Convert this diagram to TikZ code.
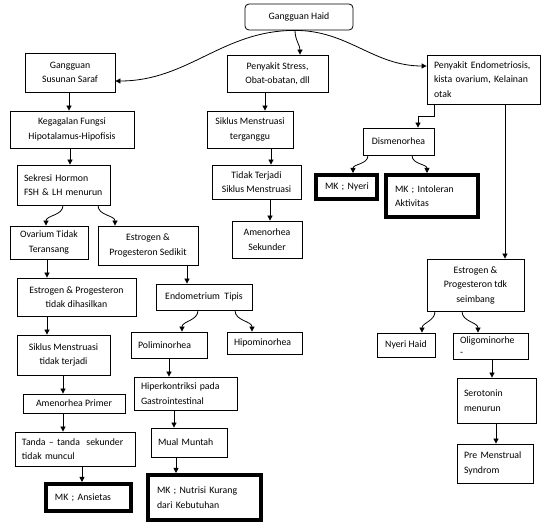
\documentclass[tikz,border=0pt]{standalone}
\usepackage{fontspec}
\setmainfont{Carlito}
\usetikzlibrary{arrows.meta}

\begin{document}
\begin{tikzpicture}[x=1pt,y=-1pt,font=\fontsize{9.8}{14.5}\selectfont,
box/.style={draw,line width=0.8pt,align=center,inner sep=0pt},
sz/.style 2 args={minimum width=#1pt,minimum height=#2pt},
lbox/.style={box,align=left,inner xsep=7pt,text width=#1pt},
mk/.style={lbox=#1,line width=4pt,inner xsep=9pt},
arr/.style={-{Triangle[length=5pt,width=5pt]},line width=0.8pt}]
\useasboundingbox (0,0) rectangle (542,532);
\node[box,sz={108}{26},rounded corners=4pt] (haid) at (299,17) {Gangguan Haid};
\node[box,sz={90}{39}] (saraf) at (70,72.5) {Gangguan\\Susunan Saraf};
\node[box,sz={101}{37}] (stress) at (277.5,73.5) {Penyakit Stress,\\Obat-obatan, dll};
\node[lbox=99,sz={113}{49}] (endo) at (483.5,79.5) {\mbox{Penyakit Endometriosis,}\\kista ovarium, Kelainan\\otak};
\node[box,sz={124}{37}] (fungsi) at (72,129.5) {Kegagalan Fungsi\\Hipotalamus-Hipofisis};
\node[box,sz={86}{37}] (terganggu) at (250,129.5) {Siklus Menstruasi\\terganggu};
\node[lbox=79,sz={93}{40}] (sekresi) at (63.5,185) {Sekresi Hormon\\FSH \& LH menurun};
\node[box,sz={89}{34}] (tidak) at (256.5,182) {Tidak Terjadi\\Siklus Menstruasi};
\node[box,sz={71}{27}] (dismen) at (398.5,141.5) {Dismenorhea};
\node[mk=43,sz={61}{24}] (mknyeri) at (346.5,187) {\mbox{MK ; Nyeri}};
\node[mk=74,sz={92}{42}] (mkintol) at (432,196) {MK ; Intoleran\\Aktivitas};
\node[box,sz={78}{33}] (ovarium) at (49,242.5) {Ovarium Tidak\\Teransang};
\node[box,sz={100}{39}] (sedikit) at (148,245.5) {Estrogen \&\\Progesteron Sedikit};
\node[box,sz={70}{37}] (sekunder) at (267,239.5) {Amenorhea\\Sekunder};
\node[box,sz={97}{52}] (seimbang) at (475.5,285) {Estrogen \&\\Progesteron tdk\\seimbang};
\node[box,sz={119}{38}] (dihasilkan) at (76.5,297) {Estrogen \& Progesteron\\tidak dihasilkan};
\node[box,sz={96}{26}] (tipis) at (204,297) {Endometrium\ \ Tipis};
\node[lbox=62,sz={76}{26}] (poli) at (169,345) {Poliminorhea};
\node[lbox=61,sz={75}{22}] (hipo) at (264.5,343) {Hipominorhea};
\node[box,sz={93}{40}] (siklus) at (63.5,355) {Siklus Menstruasi\\tidak terjadi};
\node[box,sz={58}{24}] (nyerihaid) at (406,345) {Nyeri Haid};
\node[lbox=61,sz={75}{26},font=\fontsize{9.8}{12}\selectfont] (oligo) at (490.5,346) {Oligominorhe\\-};
\node[box,sz={102}{19}] (primer) at (74,403.5) {Amenorhea Primer};
\node[lbox=89,sz={103}{33}] (hiper) at (185.5,393.5) {Hiperkontriksi pada\\Gastrointestinal};
\node[lbox=65,sz={79}{45}] (serotonin) at (496.5,400.5) {Serotonin\\menurun};
\node[lbox=106,sz={120}{34}] (tanda) at (75,449) {Tanda – tanda\ \ sekunder\\tidak muncul};
\node[lbox=62,sz={76}{29}] (mual) at (189,442.5) {Mual Muntah};
\node[lbox=62,sz={76}{39}] (pms) at (495,463.5) {\mbox{Pre Menstrual}\\Syndrom};
\node[mk=67,sz={85}{27}] (mkansi) at (88.5,497.5) {MK ; Ansietas};
\node[mk=95,sz={111}{45}] (mknutri) at (204.5,497.5) {MK ; Nutrisi Kurang\\dari Kebutuhan};
\draw[arr] (haid.south -| 295,0) to[out=180,in=0] (saraf.east |- 0,81);
\draw[arr] (haid.south -| 295,0) to[out=-90,in=90] (stress.north -| 300,0);
\draw[arr] (haid.south -| 295,0) to[out=0,in=180] (endo.west |- 0,66);
\draw[arr] (saraf.south -| 69,0) -- (fungsi.north -| 69,0);
\draw[arr] (fungsi.south -| 70,0) -- (sekresi.north -| 70,0);
\draw[arr] (stress.south -| 265,0) -- (terganggu.north -| 265,0);
\draw[arr] (terganggu.south -| 271,0) -- (tidak.north -| 271,0);
\draw[arr] (tidak.south -| 270,0) -- (sekunder.north -| 270,0);
\draw[arr] (endo.south -| 434,0) -- ++(0,12) -| (dismen.north -| 418,0);
\draw[arr] (endo.south -| 505,0) -- (seimbang.north -| 505,0);
\draw[arr] (dismen.south -| 368,0) to[out=-90,in=90] (mknyeri.north -| 353,0);
\draw[arr] (dismen.south -| 412,0) to[out=-90,in=90] (mkintol.north -| 427,0);
\draw[arr] (sekresi.south -| 63,0) to[out=-90,in=90] (ovarium.north -| 46,0);
\draw[arr] (sekresi.south -| 98,0) to[out=-90,in=90] (sedikit.north -| 115,0);
\draw[arr] (ovarium.south -| 47,0) -- (dihasilkan.north -| 47,0);
\draw[arr] (sedikit.south -| 187,0) -- (tipis.north -| 187,0);
\draw[arr] (dihasilkan.south -| 47,0) -- (siklus.north -| 47,0);
\draw[arr] (tipis.south -| 198,0) to[out=-90,in=90] (poli.north -| 182,0);
\draw[arr] (tipis.south -| 235,0) to[out=-90,in=90] (hipo.north -| 252,0);
\draw[arr] (siklus.south -| 63,0) -- (primer.north -| 63,0);
\draw[arr] (primer.south -| 63,0) -- (tanda.north -| 63,0);
\draw[arr] (tanda.south -| 82,0) -- (mkansi.north -| 82,0);
\draw[arr] (poli.south -| 169,0) -- (hiper.north -| 169,0);
\draw[arr] (hiper.south -| 174,0) -- (mual.north -| 174,0);
\draw[arr] (mual.south -| 176,0) -- (mknutri.north -| 176,0);
\draw[arr] (seimbang.south -| 435,0) to[out=-90,in=90] (nyerihaid.north -| 422,0);
\draw[arr] (seimbang.south -| 462,0) to[out=-90,in=90] (oligo.north -| 478,0);
\draw[arr] (oligo.south -| 492,0) -- (serotonin.north -| 492,0);
\draw[arr] (serotonin.south -| 496,0) -- (pms.north -| 496,0);
\end{tikzpicture}
\end{document}
